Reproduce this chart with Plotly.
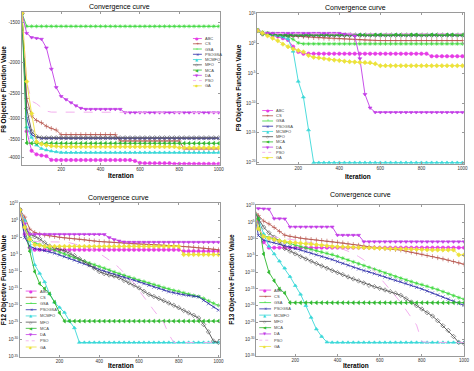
import math
import plotly.graph_objects as go

W, H = 474, 371
FONT = "Liberation Sans, Arial, sans-serif"

algorithms = ["ABC", "CS", "GSA", "PSOGSA", "MCMFO", "MFO", "MCA", "DA", "PSO", "GA"]
iterations = [1, 25, 50, 75, 100, 125, 150, 175, 200, 225, 250, 275, 300, 325, 350, 375, 400, 425, 450, 475,
              500, 525, 550, 575, 600, 625, 650, 675, 700, 725, 750, 775, 800, 825, 850, 875, 900, 925, 950, 975, 1000]

# ---------------- F8 (objective values, negative) ----------------
f8_abc = [-1400, -3300, -3800, -3900, -3930, -3950, -4060, -4065, -4065, -4065,
          -4065, -4065, -4065, -4065, -4065, -4065, -4065, -4065, -4065, -4065,
          -4065, -4065, -4065, -4090, -4150, -4160, -4160, -4160, -4160, -4160,
          -4160, -4180, -4180, -4180, -4180, -4180, -4180, -4180, -4180, -4180, -4180]
f8_cs = [-1400, -2600, -2950, -3050, -3100, -3180, -3230, -3270, -3380, -3380,
         -3380, -3380, -3380, -3380, -3380, -3380, -3380, -3380, -3380, -3380,
         -3540, -3540, -3540, -3540, -3540, -3540, -3540, -3540, -3540, -3540,
         -3540, -3540, -3540, -3750, -3750, -3750, -3750, -3750, -3750, -3750, -3750]
f8_gsa = [-1400, -1540, -1540, -1540, -1540, -1540, -1540, -1540, -1540, -1540,
          -1540, -1540, -1540, -1540, -1540, -1540, -1540, -1540, -1540, -1540,
          -1540, -1540, -1540, -1540, -1540, -1540, -1540, -1540, -1540, -1540,
          -1540, -1540, -1540, -1540, -1540, -1540, -1540, -1540, -1540, -1540, -1540]
f8_psogsa = [-1400, -3000, -3380, -3440, -3470, -3470, -3470, -3470, -3470, -3470,
             -3470, -3470, -3470, -3470, -3470, -3470, -3470, -3470, -3470, -3470,
             -3470, -3470, -3470, -3470, -3470, -3470, -3470, -3470, -3470, -3470,
             -3470, -3470, -3470, -3470, -3470, -3470, -3470, -3470, -3470, -3470, -3470]
f8_mcmfo = [-1400, -3200, -3450, -3650, -3740, -3780, -3810, -3830, -3850, -3850,
            -3850, -3850, -3850, -3850, -3850, -3850, -3850, -3850, -3850, -3850,
            -3850, -3850, -3850, -3850, -3850, -3850, -3850, -3850, -3850, -3850,
            -3850, -3850, -3850, -3850, -3850, -3850, -3850, -3850, -3850, -3850, -3850]
f8_mfo = [-1400, -2800, -3300, -3430, -3460, -3460, -3460, -3460, -3460, -3460,
          -3460, -3460, -3460, -3460, -3460, -3460, -3460, -3460, -3460, -3460,
          -3460, -3460, -3460, -3460, -3460, -3460, -3460, -3460, -3460, -3460,
          -3460, -3460, -3460, -3460, -3460, -3460, -3460, -3460, -3460, -3460, -3460]
f8_mca = [-1400, -3590, -3600, -3600, -3600, -3600, -3600, -3600, -3600, -3600,
          -3600, -3600, -3600, -3600, -3600, -3600, -3600, -3600, -3600, -3600,
          -3600, -3600, -3600, -3600, -3600, -3600, -3600, -3600, -3600, -3600,
          -3600, -3600, -3600, -3600, -3600, -3600, -3600, -3600, -3600, -3600, -3600]
f8_da = [-1400, -1620, -1670, -1680, -1690, -1800, -2100, -2400, -2560, -2620,
         -2680, -2740, -2790, -2810, -2810, -2810, -2810, -2810, -2810, -2810,
         -2810, -2880, -2880, -2880, -2880, -2880, -2880, -2880, -2880, -2880,
         -2880, -2880, -2880, -2880, -2880, -2880, -2880, -2880, -2880, -2880, -2880]
f8_pso = [-1400, -2300, -2650, -2700, -2780, -2850, -2870, -2870, -2870, -2870,
          -2870, -2870, -2870, -2870, -2870, -2870, -2870, -2870, -2870, -2870,
          -2870, -2880, -2880, -2880, -2880, -2880, -2880, -2880, -2880, -2880,
          -2880, -2880, -2880, -2880, -2880, -2880, -2880, -2880, -2880, -2880, -2880]
f8_ga = [-1400, -2300, -2900, -3560, -3620, -3650, -3670, -3680, -3690, -3690,
         -3690, -3690, -3690, -3690, -3690, -3690, -3690, -3690, -3690, -3690,
         -3690, -3690, -3690, -3690, -3690, -3690, -3690, -3690, -3690, -3690,
         -3690, -3690, -3715, -3715, -3715, -3715, -3715, -3715, -3715, -3715, -3715]

# ---------------- F9 ----------------
f9_abc = [160, 60, 40, 25, 15, 8, 4, 0.3, 0.04, 0.02,
          0.02, 0.02, 0.02, 0.02, 0.02, 0.02, 0.02, 0.02, 0.02, 0.02,
          0.02, 0.02, 0.02, 0.02, 0.02, 0.02, 0.02, 0.02, 0.02, 0.02,
          0.02, 0.02, 0.02, 0.02, 0.0075, 0.0075, 0.0075, 0.0075, 0.0075, 0.0075, 0.0075]
f9_cs = [160, 60, 40, 30, 25, 22, 20, 18, 16, 14,
         12, 10, 9, 8, 7, 6.5, 6, 5.5, 5, 4.5,
         4, 3.5, 3.2, 3.2, 3.2, 3.2, 3.2, 3.2, 3.2, 3.2,
         3.2, 3.2, 3.2, 3.2, 3.2, 3.2, 3.2, 3.2, 3.2, 3.2, 3.2]
f9_gsa = [160, 80, 60, 45, 35, 25, 15, 5, 1.3, 0.9,
          0.9, 0.9, 0.9, 0.9, 0.9, 0.9, 0.9, 0.9, 0.9, 0.9,
          0.9, 0.9, 0.9, 0.9, 0.9, 0.9, 0.9, 0.9, 0.9, 0.9,
          0.9, 0.9, 0.9, 0.9, 0.9, 0.9, 0.9, 0.9, 0.9, 0.9, 0.9]
f9_psogsa = [160, 70, 50, 40, 35, 27, 27, 27, 27, 27,
             27, 27, 27, 27, 27, 27, 27, 27, 27, 27,
             27, 27, 27, 27, 27, 27, 27, 27, 27, 27,
             27, 27, 27, 27, 27, 27, 27, 27, 27, 27, 27]
f9_mcmfo = [160, 70, 40, 30, 22, 12, 6, 0.05, 4.5e-7, 1e-9,
            3e-15, 1e-20, 1e-20, 1e-20, 1e-20, 1e-20, 1e-20, 1e-20, 1e-20, 1e-20,
            1e-20, 1e-20, 1e-20, 1e-20, 1e-20, 1e-20, 1e-20, 1e-20, 1e-20, 1e-20,
            1e-20, 1e-20, 1e-20, 1e-20, 1e-20, 1e-20, 1e-20, 1e-20, 1e-20, 1e-20, 1e-20]
f9_mfo = [160, 40, 35, 32, 30, 25, 25, 25, 25, 25,
          25, 25, 25, 25, 25, 25, 25, 25, 25, 25,
          25, 25, 25, 25, 25, 25, 25, 25, 25, 25,
          25, 25, 25, 25, 25, 25, 25, 25, 25, 25, 25]
f9_mca = [160, 45, 38, 35, 33, 30, 30, 30, 30, 30,
          30, 30, 30, 30, 30, 30, 30, 30, 30, 30,
          30, 30, 30, 30, 30, 30, 30, 30, 30, 30,
          30, 30, 30, 30, 30, 30, 30, 30, 30, 30, 30]
f9_da = [160, 55, 55, 55, 55, 55, 55, 55, 55, 55,
         55, 55, 55, 55, 55, 55, 55, 40, 40, 20,
         3e-3, 3e-9, 1.6e-11, 2.8e-12, 2.8e-12, 2.8e-12, 2.8e-12, 2.8e-12, 2.8e-12, 2.8e-12,
         2.8e-12, 2.8e-12, 2.8e-12, 2.8e-12, 2.8e-12, 2.8e-12, 2.8e-12, 2.8e-12, 2.8e-12, 2.8e-12, 2.8e-12]
f9_pso = [160, 70, 55, 50, 48, 45, 45, 45, 45, 45,
          45, 45, 45, 45, 45, 45, 45, 45, 45, 45,
          45, 45, 45, 45, 45, 45, 45, 45, 45, 45,
          45, 45, 45, 45, 45, 45, 45, 45, 45, 45, 45]
f9_ga = [160, 60, 20, 8, 3, 0.8, 0.3, 0.12, 0.07, 0.04,
         0.01, 0.005, 0.004, 0.003, 0.0022, 0.0017, 0.0014, 0.0011, 0.0009, 0.0008,
         0.0007, 0.00065, 0.0006, 0.0004, 0.00019, 0.00019, 0.00019, 0.00019, 0.00019, 0.00019,
         0.00019, 0.00019, 0.00019, 0.00019, 0.00019, 0.00019, 0.00019, 0.00019, 0.00019, 0.00019, 0.00019]

# ---------------- F12 ----------------
f12_abc = [1.2e8, 10, 1e-3, 2.5e-4, 2.5e-4, 2.5e-4, 2.5e-4, 2.5e-4, 2.5e-4, 2.5e-4,
           2.5e-4, 2.5e-4, 2.5e-4, 2.5e-4, 2.5e-4, 2.5e-4, 2.5e-4, 2.5e-4, 2.5e-4, 2.5e-4,
           2.5e-4, 2.5e-4, 2.5e-4, 2.5e-4, 2.5e-4, 2.5e-4, 2.5e-4, 2.5e-4, 2.5e-4, 2.5e-4,
           2.5e-4, 2.5e-4, 2.5e-4, 1e-4, 1e-4, 1e-4, 1e-4, 1e-4, 1e-4, 1e-4, 1e-4]
f12_cs = [1.2e8, 1e6, 3e2, 30, 10, 5, 3, 2, 1.2, 0.8,
          0.6, 0.45, 0.35, 0.25, 0.15, 0.1, 0.066, 0.055, 0.045, 0.035,
          0.03, 0.022, 0.015, 0.012, 0.01, 0.009, 0.008, 0.007, 0.006, 0.005,
          0.0045, 0.004, 0.0025, 0.0022, 0.0018, 0.0014, 0.001, 8e-4, 6e-4, 4e-4, 2.5e-4]
f12_gsa = [1.2e8, 3e2, 1, 3e-2, 8e-3, 2.5e-3, 6e-4, 2e-4, 5e-5, 1.6e-5,
           4e-6, 1.3e-6, 3e-7, 1e-7, 3e-8, 1e-8, 3e-9, 1e-9, 3e-10, 8e-11,
           2.5e-11, 8e-12, 2.5e-12, 1e-12, 3e-13, 1.3e-13, 4e-14, 1.6e-14, 6e-15, 2e-15,
           8e-16, 3e-16, 1.6e-16, 6e-17, 2.5e-17, 1e-17, 5e-18, 1.3e-18, 2.5e-19, 5e-20, 1.2e-20]
f12_psogsa = [1.2e8, 1, 3e-3, 6e-4, 3e-4, 1.6e-4, 6e-5, 2.5e-5, 8e-6, 2.5e-6,
              8e-7, 2.5e-7, 6e-8, 2e-8, 6e-9, 1.6e-9, 4e-10, 1.6e-10, 5e-11, 1.6e-11,
              6e-12, 2.5e-12, 8e-13, 3e-13, 1e-13, 3e-14, 1e-14, 3e-15, 1.3e-15, 4e-16,
              1.3e-16, 6e-17, 3e-17, 1.6e-17, 1e-17, 6e-18, 4e-18, 4e-19, 4e-20, 4e-21, 5e-22]
f12_mcmfo = [1.2e8, 1e5, 0.1, 1e-8, 3e-11, 1e-13, 3e-17, 1e-19, 3e-21, 1e-22,
             3e-25, 3e-27, 1.6e-31, 1.6e-31, 1.6e-31, 1.6e-31, 1.6e-31, 1.6e-31, 1.6e-31, 1.6e-31,
             1.6e-31, 1.6e-31, 1.6e-31, 1.6e-31, 1.6e-31, 1.6e-31, 1.6e-31, 1.6e-31, 1.6e-31, 1.6e-31,
             1.6e-31, 1.6e-31, 1.6e-31, 1.6e-31, 1.6e-31, 1.6e-31, 1.6e-31, 1.6e-31, 1.6e-31, 1.6e-31, 1.6e-31]
f12_mfo = [1.2e8, 1e3, 10, 1.6, 0.4, 3e-2, 3e-3, 1e-3, 4e-4, 1.3e-4,
           2.5e-5, 5e-6, 6e-7, 8e-8, 1e-8, 1e-9, 1e-10, 2.5e-11, 1e-11, 5e-12,
           1.6e-12, 2.5e-13, 5e-14, 1e-14, 1.6e-15, 1.6e-16, 2e-17, 5e-18, 1.3e-18, 3e-19,
           6e-20, 1.3e-20, 2.5e-21, 4e-22, 8e-23, 1.6e-23, 2.5e-24, 3e-26, 2e-28, 4e-31, 1.6e-31]
f12_mca = [1.2e8, 1e3, 1e-4, 1e-10, 3e-14, 1e-15, 3e-17, 1e-19, 8e-23, 3e-25,
           3e-25, 3e-25, 3e-25, 3e-25, 3e-25, 3e-25, 3e-25, 3e-25, 3e-25, 3e-25,
           3e-25, 3e-25, 3e-25, 3e-25, 3e-25, 3e-25, 3e-25, 3e-25, 3e-25, 3e-25,
           3e-25, 3e-25, 3e-25, 3e-25, 3e-25, 3e-25, 3e-25, 3e-25, 3e-25, 3e-25, 3e-25]
f12_da = [1.2e8, 1e4, 9, 9, 9, 9, 9, 9, 9, 9,
          9, 9, 9, 9, 9, 9, 9, 8, 1, 0.25,
          0.1, 0.05, 0.043, 0.043, 0.043, 0.043, 0.043, 0.043, 0.043, 0.043,
          0.043, 0.043, 0.043, 0.043, 0.043, 0.043, 0.043, 0.043, 0.043, 0.043, 0.043]
f12_pso = [1.2e8, 1e2, 7e-2, 7e-2, 6.6e-2, 6.3e-2, 6e-2, 5.5e-2, 5e-2, 4.5e-2,
           3e-2, 1.5e-2, 6e-3, 2.3e-3, 1e-3, 2e-4, 2.5e-5, 2.5e-6, 2.5e-7, 2.5e-8,
           1.3e-9, 4e-11, 1.6e-12, 4e-14, 3e-16, 2.5e-18, 2.5e-20, 4e-22, 6e-24, 1e-25,
           4e-29, 1.6e-31, 1.6e-31, 1.6e-31, 1.6e-31, 1.6e-31, 1.6e-31, 1.6e-31, 1.6e-31, 1.6e-31, 1.6e-31]
f12_ga = [1.2e8, 1e3, 0.3, 7e-3, 5e-3, 2.5e-3, 2.5e-3, 2.5e-3, 2.5e-3, 2.5e-3,
          2.5e-3, 2.5e-3, 2.5e-3, 2.5e-3, 2.5e-3, 2.5e-3, 2.5e-3, 2.5e-3, 2.5e-3, 2.5e-3,
          2.5e-3, 2.5e-3, 2.5e-3, 2.5e-3, 2.5e-3, 2.5e-3, 2.5e-3, 2.5e-3, 2.5e-3, 2.5e-3,
          2.5e-3, 2.5e-3, 2.5e-3, 1e-5, 1e-5, 1e-5, 1e-5, 1e-5, 1e-5, 1e-5, 1e-5]

# ---------------- F13 ----------------
f13_abc = [1.6e9, 1e5, 0.1, 2.3e-3, 2.3e-3, 2.3e-3, 2.3e-3, 2.3e-3, 2.3e-3, 2.3e-3,
           2.3e-3, 2.3e-3, 2.3e-3, 2.3e-3, 2.3e-3, 2.3e-3, 2.3e-3, 2.3e-3, 2.3e-3, 2.3e-3,
           2.3e-3, 2.3e-3, 2.3e-3, 2.3e-3, 2.3e-3, 2.3e-3, 2.3e-3, 2.3e-3, 2.3e-3, 2.3e-3,
           2.3e-3, 2.3e-3, 2.3e-3, 2.3e-3, 2.3e-3, 2.3e-3, 2.3e-3, 2.3e-3, 2.3e-3, 2.3e-3, 2.3e-3]
f13_cs = [1.6e9, 1e7, 2e5, 3e4, 2.5e3, 1.6e2, 12.6, 5.6, 2.8, 1.4,
          0.95, 0.66, 0.45, 0.32, 0.21, 0.15, 0.1, 0.063, 0.032, 0.02,
          0.0126, 6.3e-3, 4e-3, 2.5e-3, 1.6e-3, 1.26e-3, 9e-4, 6.3e-4, 4.5e-4, 2e-4,
          1e-4, 5e-5, 2.5e-5, 1e-5, 5e-6, 2.2e-6, 1e-6, 4e-7, 1.6e-7, 6.3e-8, 2.5e-8]
f13_gsa = [1.6e9, 1e3, 8, 2.5, 0.9, 0.32, 0.126, 0.04, 0.014, 4.5e-3,
           1.8e-3, 7e-4, 2.8e-4, 1.1e-4, 4.5e-5, 2e-5, 5.6e-6, 1.6e-6, 4.5e-7, 1.26e-7,
           3.5e-8, 1e-8, 2.8e-9, 8e-10, 2.2e-10, 6.3e-11, 1.8e-11, 5e-12, 1.6e-12, 5e-13,
           1.6e-13, 5e-14, 2e-14, 6.3e-15, 2e-15, 6.3e-16, 1.6e-16, 4e-17, 1e-17, 2.5e-18, 8e-19]
f13_psogsa = [1.6e9, 10, 0.4, 0.16, 0.08, 0.032, 0.0126, 4e-3, 1.26e-3, 4.5e-4,
              1.6e-4, 5e-5, 1.6e-5, 5e-6, 1.6e-6, 6.3e-7, 1.6e-7, 4.5e-8, 1.26e-8, 3.2e-9,
              1e-9, 3.2e-10, 1.26e-10, 4e-11, 1.26e-11, 4e-12, 1.26e-12, 4e-13, 1.6e-13, 5e-14,
              1.26e-14, 3.2e-15, 1e-15, 2.5e-16, 6.3e-17, 1.6e-17, 4e-18, 1e-18, 2.5e-19, 5e-20, 1.26e-20]
f13_mcmfo = [1.6e9, 1e6, 30, 6e-3, 3e-5, 2e-7, 1.6e-9, 5e-12, 1e-14, 2.5e-17,
             1e-20, 3e-24, 1e-27, 6e-30, 1.26e-31, 1e-31, 1e-31, 1e-31, 1e-31, 1e-31,
             1e-31, 1e-31, 1e-31, 1e-31, 1e-31, 1e-31, 1e-31, 1e-31, 1e-31, 1e-31,
             1e-31, 1e-31, 1e-31, 1e-31, 1e-31, 1e-31, 1e-31, 1e-31, 1e-31, 1e-31, 1e-31]
f13_mfo = [1.6e9, 1e6, 3.2e3, 63, 3.2, 0.16, 1.26e-3, 2e-4, 3.2e-5, 5e-6,
           1e-6, 2e-7, 4e-8, 8e-9, 1.6e-9, 3.2e-10, 8e-11, 2e-11, 4e-12, 1e-12,
           2.5e-13, 6.3e-14, 1.26e-14, 5e-15, 1.6e-15, 5e-16, 1.6e-16, 5e-17, 1.26e-17, 1.26e-18,
           1.26e-19, 1e-20, 1e-21, 8e-23, 8e-24, 3.2e-25, 1e-26, 4e-28, 6.3e-30, 1e-31, 5e-32]
f13_mca = [1.6e9, 1e6, 3e-5, 1e-10, 3e-13, 1e-15, 6e-17, 8e-20, 8e-20, 8e-20,
           8e-20, 8e-20, 8e-20, 8e-20, 8e-20, 8e-20, 8e-20, 8e-20, 8e-20, 8e-20,
           8e-20, 8e-20, 8e-20, 8e-20, 8e-20, 8e-20, 8e-20, 8e-20, 8e-20, 8e-20,
           8e-20, 8e-20, 8e-20, 8e-20, 8e-20, 8e-20, 8e-20, 8e-20, 8e-20, 8e-20, 8e-20]
f13_da = [1.6e9, 1.2e9, 1e9, 8e8, 1.1e6, 1.1e6, 1e6, 3.8e3, 3.8e3, 3.8e3,
          3.8e3, 3.8e3, 3.8e3, 3.8e3, 3.8e3, 3.8e3, 12.6, 12.6, 12.6, 12.6,
          12.6, 0.14, 0.14, 0.14, 0.14, 0.14, 0.14, 0.14, 0.14, 0.14,
          0.14, 0.14, 0.14, 0.14, 0.14, 0.14, 0.14, 0.14, 0.14, 0.14, 0.14]
f13_pso = [1.6e9, 1e3, 10, 6.3, 4, 2.5, 1.26, 0.8, 0.45, 0.25,
           0.126, 0.07, 0.04, 0.02, 0.011, 6.3e-3, 2.5e-3, 8e-4, 2.5e-4, 5e-5,
           5e-6, 5e-7, 1.6e-8, 2e-10, 2.5e-12, 3.2e-14, 5e-16, 6.3e-18, 1e-19, 5e-22,
           3.2e-24, 1.6e-26, 1.6e-31, 1e-31, 1e-31, 1e-31, 1e-31, 1e-31, 1e-31, 1e-31, 1e-31]
f13_ga = [1.6e9, 1e3, 5, 1.5, 0.6, 0.25, 0.14, 0.1, 0.07, 0.05,
          0.035, 0.025, 0.018, 0.012, 8e-3, 5e-3, 4.5e-3, 4e-3, 3.5e-3, 3e-3,
          2.5e-3, 2.2e-3, 2e-3, 1.8e-3, 1.6e-3, 1.4e-3, 1.2e-3, 1.1e-3, 1e-3, 9e-4,
          8e-4, 7e-4, 6e-4, 5e-4, 4.7e-4, 4.7e-4, 4.7e-4, 4.7e-4, 4.7e-4, 1.6e-5, 1.6e-5]

# ---------------- styles ----------------
STYLE = {
    "ABC":    dict(color="#e63be6", symbol="circle", dash="solid", glyph="\u25cf"),
    "CS":     dict(color="#b5524a", symbol="cross-thin-open", dash="solid", glyph="+"),
    "GSA":    dict(color="#3ad83a", symbol="asterisk-open", dash="solid", glyph="*"),
    "PSOGSA": dict(color="#2a2aa8", symbol="x-thin-open", dash="solid", glyph="\u00d7"),
    "MCMFO":  dict(color="#3ad8d8", symbol="triangle-up", dash="solid", glyph="\u25b2"),
    "MFO":    dict(color="#505050", symbol="diamond-open", dash="solid", glyph="\u25c7"),
    "MCA":    dict(color="#2fb82f", symbol="triangle-left", dash="solid", glyph="\u25c0"),
    "DA":     dict(color="#c23de6", symbol="triangle-down", dash="solid", glyph="\u25bc"),
    "PSO":    dict(color="#f0a6ec", symbol=None, dash="dash", glyph=""),
    "GA":     dict(color="#ece23a", symbol="diamond", dash="solid", glyph="\u25c6"),
}

def px(x):
    return x / W

def py(y):
    return 1 - y / H

panels = [
    dict(name="F8", series=[f8_abc, f8_cs, f8_gsa, f8_psogsa, f8_mcmfo, f8_mfo, f8_mca, f8_da, f8_pso, f8_ga],
         negate=True, ax="", box=(22, 222, 9, 164), xr=[0, 1005],
         legend=(195, 204, 206, 36, 5.33), ylab=(4, 87), xlab=(122, 175), title=(121, 4.5)),
    dict(name="F9", series=[f9_abc, f9_cs, f9_gsa, f9_psogsa, f9_mcmfo, f9_mfo, f9_mca, f9_da, f9_pso, f9_ga],
         negate=False, ax="2", box=(260, 469, 10, 163), xr=[0, 1008],
         legend=(265, 276, 278, 109, 5.3), ylab=(241, 86), xlab=(362, 175.5), title=(359, 5)),
    dict(name="F12", series=[f12_abc, f12_cs, f12_gsa, f12_psogsa, f12_mcmfo, f12_mfo, f12_mca, f12_da, f12_pso, f12_ga],
         negate=False, ax="3", box=(20, 222, 203, 359), xr=[0, 1006],
         legend=(26, 37, 39, 292, 6.3), ylab=(4, 280), xlab=(122, 367), title=(120, 198)),
    dict(name="F13", series=[f13_abc, f13_cs, f13_gsa, f13_psogsa, f13_mcmfo, f13_mfo, f13_mca, f13_da, f13_pso, f13_ga],
         negate=False, ax="4", box=(259, 469, 205, 358), xr=[15, 1000],
         legend=(262, 274, 276, 291, 6.35), ylab=(235, 280), xlab=(360, 367), title=(364, 195)),
]

fig = go.Figure()
layout = dict(width=W, height=H, margin=dict(l=0, r=0, t=0, b=0), paper_bgcolor="white",
              plot_bgcolor="white", showlegend=False, font=dict(family=FONT))
annotations = []
shapes = []

AXCOL = "#9a9a9a"
def base_axis():
    return dict(showline=True, linecolor=AXCOL, linewidth=0.8, mirror="ticks", ticks="inside",
                ticklen=2, tickwidth=0.6, tickcolor=AXCOL, showgrid=False, zeroline=False,
                tickfont=dict(size=4.5, color="#333", family=FONT))

def sup_label(p):
    return "10<sup>%d</sup>" % p

for pn in panels:
    a = pn["ax"]
    xa, ya = "x" + a, "y" + a
    for alg, vals in zip(algorithms, pn["series"]):
        st = STYLE[alg]
        yv = [-v for v in vals] if pn["negate"] else vals
        tr = dict(x=iterations, y=yv, name=alg, xaxis=xa, yaxis=ya,
                  line=dict(color=st["color"], width=0.9, dash=st["dash"]))
        if st["symbol"]:
            tr["mode"] = "lines+markers"
            tr["marker"] = dict(symbol=st["symbol"], size=3.4, color=st["color"],
                                line=dict(color=st["color"], width=0.6))
        else:
            tr["mode"] = "lines"
        fig.add_trace(go.Scatter(**tr))

    x0, x1, y0, y1 = pn["box"]
    xax = base_axis()
    xax.update(domain=[px(x0), px(x1)], range=pn["xr"], anchor=ya,
               tickvals=[200, 400, 600, 800, 1000])
    yax = base_axis()
    yax.update(domain=[py(y1), py(y0)], anchor=xa, type="log")
    if pn["name"] == "F8":
        yt = [1500, 2000, 2500, 3000, 3500, 4000]
        yax.update(range=[math.log10(4207), math.log10(1387)], tickvals=yt,
                   ticktext=["-%d" % t for t in yt])
    elif pn["name"] == "F9":
        ex = [5, 0, -5, -10, -15, -20]
        yax.update(range=[-20.2, 5.16], tickvals=[10.0 ** e for e in ex], ticktext=[sup_label(e) for e in ex])
    else:
        ex = [10, 5, 0, -5, -10, -15, -20, -25, -30, -35]
        yax.update(range=[-35.1, 10.05], tickvals=[10.0 ** e for e in ex], ticktext=[sup_label(e) for e in ex])
    layout["xaxis" + a] = xax
    layout["yaxis" + a] = yax

    # titles
    tx, ty = pn["title"]
    annotations.append(dict(text="Convergence curve", x=px(tx), y=py(ty), xref="paper", yref="paper",
                            showarrow=False, xanchor="center", yanchor="middle",
                            font=dict(size=7, color="#000", family=FONT)))
    lx, ly = pn["ylab"]
    annotations.append(dict(text="<b>%s Objective Function Value</b>" % pn["name"], x=px(lx), y=py(ly),
                            xref="paper", yref="paper", showarrow=False, textangle=-90,
                            xanchor="center", yanchor="middle",
                            font=dict(size=6.5, color="#000", family=FONT)))
    ix, iy = pn["xlab"]
    annotations.append(dict(text="<b>Iteration</b>", x=px(ix), y=py(iy), xref="paper", yref="paper",
                            showarrow=False, xanchor="center", yanchor="middle",
                            font=dict(size=6.5, color="#000", family=FONT)))

    # legend (drawn as paper shapes + text)
    l0, l1, ltx, ly0, ldy = pn["legend"]
    for i, alg in enumerate(algorithms):
        st = STYLE[alg]
        yy = py(ly0 + i * ldy)
        shapes.append(dict(type="line", xref="paper", yref="paper", x0=px(l0), x1=px(l1), y0=yy, y1=yy,
                           line=dict(color=st["color"], width=0.8,
                                     dash="dot" if st["dash"] == "dash" else "solid")))
        if st["glyph"]:
            annotations.append(dict(text=st["glyph"], x=px((l0 + l1) / 2), y=yy, xref="paper", yref="paper",
                                    showarrow=False, xanchor="center", yanchor="middle", borderpad=0,
                                    font=dict(size=4, color=st["color"], family="DejaVu Sans")))
        annotations.append(dict(text=alg, x=px(ltx), y=yy, xref="paper", yref="paper",
                                showarrow=False, xanchor="left", yanchor="middle", borderpad=0,
                                font=dict(size=4, color="#444", family=FONT)))

layout["annotations"] = annotations
layout["shapes"] = shapes
fig.update_layout(**layout)
fig.write_html("out.html")
